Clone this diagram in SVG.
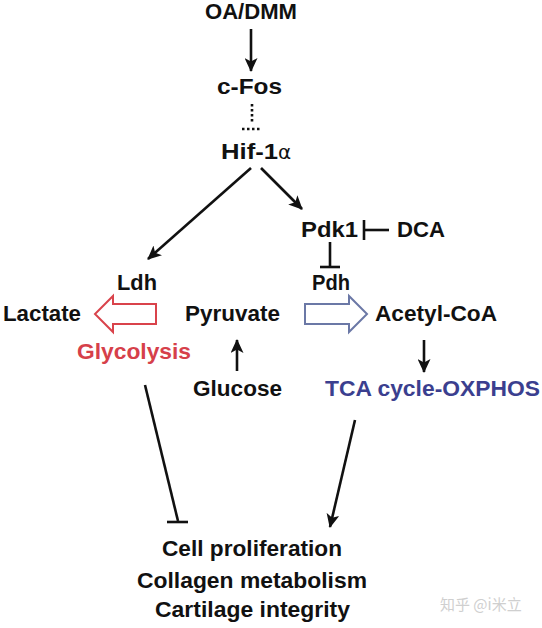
<svg xmlns="http://www.w3.org/2000/svg" width="542" height="628" viewBox="0 0 542 628">
<defs>
<style>
.t{font-family:"Liberation Sans",Arial,sans-serif;font-weight:bold;font-size:21.5px;fill:#111}
.red{fill:#d6404a}
.blue{fill:#3b3f8f}
.ln{stroke:#111;stroke-width:2.6;fill:none}
.wm{font-family:"Noto Sans CJK SC","Liberation Sans",sans-serif;font-size:15px;fill:#cfcfcf}
</style>
<marker id="ah" markerUnits="userSpaceOnUse" markerWidth="15" markerHeight="13" refX="13" refY="6.5" orient="auto">
<path d="M0,0 L14,6.5 L0,13 L3.5,6.5 Z" fill="#111"/>
</marker>
</defs>
<rect width="542" height="628" fill="#fff"/>

<g id="connectors">
<line class="ln" x1="251" y1="29" x2="251" y2="71" marker-end="url(#ah)"/>
<line x1="252" y1="104" x2="252" y2="124" stroke="#111" stroke-width="2.6" stroke-dasharray="2.5,2.5"/>
<line x1="242" y1="129" x2="261" y2="129" stroke="#111" stroke-width="2.6" stroke-dasharray="2.5,2.5"/>
<line class="ln" x1="251" y1="168" x2="148" y2="259" marker-end="url(#ah)"/>
<line class="ln" x1="261" y1="168" x2="302" y2="209" marker-end="url(#ah)"/>
<line class="ln" x1="364" y1="230" x2="389" y2="230"/>
<line class="ln" x1="364" y1="220" x2="364" y2="240"/>
<line class="ln" x1="330" y1="242" x2="330" y2="266"/>
<line class="ln" x1="320" y1="267" x2="340" y2="267"/>
<path d="M156,304 L113,304 L113,296 L95,314 L113,332 L113,324 L156,324 Z" fill="#fff" stroke="#d9434b" stroke-width="2"/>
<path d="M305,304 L349,304 L349,296 L367,314 L349,332 L349,324 L305,324 Z" fill="#fff" stroke="#6b78a6" stroke-width="2"/>
<line class="ln" x1="237" y1="371" x2="237" y2="340" marker-end="url(#ah)"/>
<line class="ln" x1="424" y1="340" x2="424" y2="372" marker-end="url(#ah)"/>
<line class="ln" x1="145" y1="385" x2="178" y2="521"/>
<line class="ln" x1="167" y1="522" x2="188" y2="522"/>
<line class="ln" x1="355" y1="420" x2="330" y2="527" marker-end="url(#ah)"/>
</g>

<g id="n-oa"><text class="t" x="205" y="19" textLength="92" lengthAdjust="spacingAndGlyphs">OA/DMM</text></g>
<g id="n-cfos"><text class="t" x="217" y="94" textLength="65" lengthAdjust="spacingAndGlyphs">c-Fos</text></g>
<g id="n-hif"><text class="t" x="221" y="159" textLength="57" lengthAdjust="spacingAndGlyphs">Hif-1</text><text x="278" y="159" style="font-family:'DejaVu Sans',sans-serif;font-size:20px;fill:#111">α</text></g>
<g id="n-pdk1"><text class="t" x="301" y="237" textLength="57" lengthAdjust="spacingAndGlyphs">Pdk1</text></g>
<g id="n-dca"><text class="t" x="397" y="237" textLength="48" lengthAdjust="spacingAndGlyphs">DCA</text></g>
<g id="n-ldh"><text class="t" x="117" y="290" textLength="40" lengthAdjust="spacingAndGlyphs">Ldh</text></g>
<g id="n-pdh"><text class="t" x="312" y="290" textLength="38" lengthAdjust="spacingAndGlyphs">Pdh</text></g>
<g id="n-lactate"><text class="t" x="3" y="321" textLength="78" lengthAdjust="spacingAndGlyphs">Lactate</text></g>
<g id="n-pyruvate"><text class="t" x="185" y="321" textLength="95" lengthAdjust="spacingAndGlyphs">Pyruvate</text></g>
<g id="n-acetyl"><text class="t" x="375" y="321" textLength="122" lengthAdjust="spacingAndGlyphs">Acetyl-CoA</text></g>
<g id="n-glycolysis"><text class="t red" x="77" y="359" textLength="114" lengthAdjust="spacingAndGlyphs">Glycolysis</text></g>
<g id="n-glucose"><text class="t" x="193" y="396" textLength="89" lengthAdjust="spacingAndGlyphs">Glucose</text></g>
<g id="n-tca"><text class="t blue" x="325" y="396" textLength="215" lengthAdjust="spacingAndGlyphs">TCA cycle-OXPHOS</text></g>
<g id="n-outcome">
<text class="t" x="162" y="556" textLength="180" lengthAdjust="spacingAndGlyphs">Cell proliferation</text>
<text class="t" x="137" y="588" textLength="230" lengthAdjust="spacingAndGlyphs">Collagen metabolism</text>
<text class="t" x="155" y="617" textLength="195" lengthAdjust="spacingAndGlyphs">Cartilage integrity</text>
</g>
<text class="wm" x="440" y="610">知乎 @i米立</text>
</svg>
